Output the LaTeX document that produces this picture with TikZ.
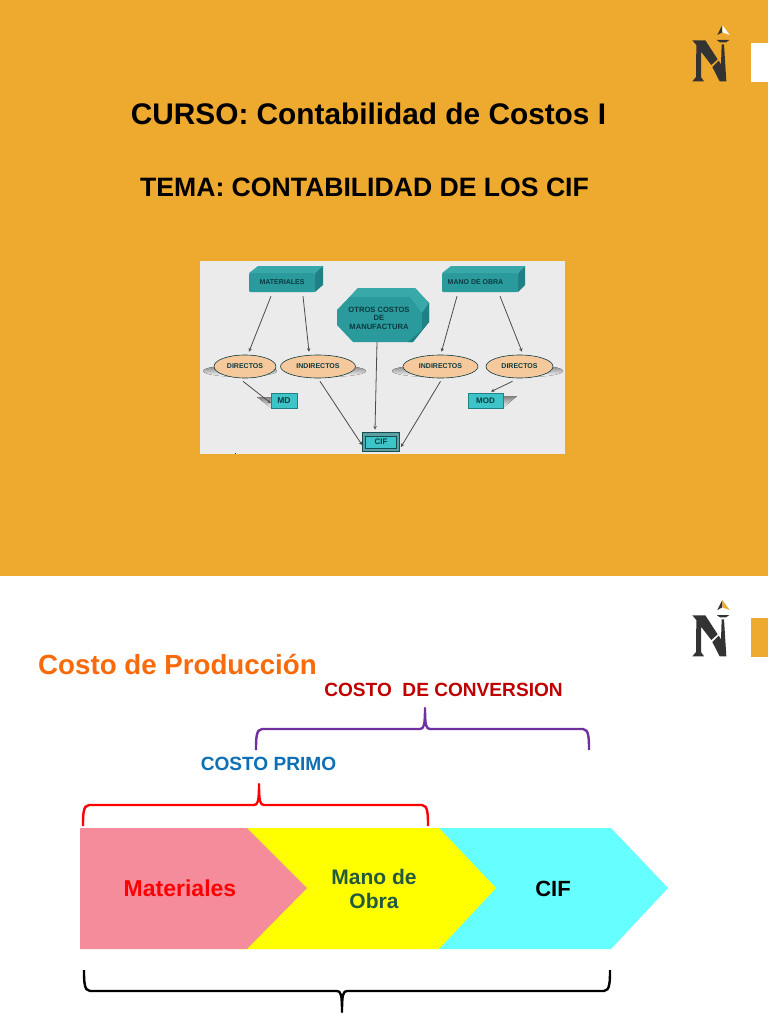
\documentclass[tikz,border=0pt]{standalone}
\usepackage{fontspec}
\setmainfont{Liberation Sans}
\usetikzlibrary{calc,arrows.meta,shapes.geometric}
\definecolor{bgorange}{HTML}{EEA92F}
\definecolor{panel}{HTML}{EBEBEB}
\definecolor{teal1}{HTML}{2A9A9C}
\definecolor{teal2}{HTML}{38A8A9}
\definecolor{teal3}{HTML}{1F8085}
\definecolor{tealtext}{HTML}{0C3A40}
\definecolor{peach}{HTML}{F5C99B}
\definecolor{shade}{HTML}{8E8E8E}
\definecolor{cyanbox}{HTML}{3CC4C8}
\definecolor{logodark}{HTML}{333333}
\definecolor{pinkc}{HTML}{F48C9C}
\definecolor{cyanc}{HTML}{66FFFF}
\definecolor{yellowc}{HTML}{FFFF00}
\definecolor{redc}{HTML}{FF0000}
\definecolor{primo}{HTML}{0F6FB5}
\definecolor{conv}{HTML}{C00000}
\definecolor{purpleb}{HTML}{7030A0}
\definecolor{darkgreen}{HTML}{245A3C}
\definecolor{prodo}{HTML}{F96A0A}
\newcommand{\fsz}[1]{\fontsize{#1}{#1}\selectfont}
\newcommand{\mybrace}[6]{% colour, left x, right x, tip x, end y, bar y
  \draw[#1,line width=2.4pt,line cap=butt,line join=round]
    (#2,#5) .. controls (#2,#6*0.5+#5*0.5) and (#2,#6) .. (#2+6,#6)
    -- (#4-5,#6) .. controls (#4-1,#6) and (#4,{#6+(#5>#6?-1:1)*4}) .. (#4,{#6+(#5>#6?-1:1)*21})
    .. controls (#4,{#6+(#5>#6?-1:1)*4}) and (#4+1,#6) .. (#4+5,#6)
    -- (#3-6,#6) .. controls (#3,#6) and (#3,#6*0.5+#5*0.5) .. (#3,#5);
}
\newcommand{\mylogo}[3]{% origin x, origin y, tip colour
  \begin{scope}[shift={(#1,#2)},x=0.3333pt,y=-0.3333pt]
    \fill[logodark] (67,76) -- (106,76) -- (143,133) -- (124,150) -- (93,110) -- (93,186) -- (102,199) -- (67,199) -- (78,186) -- (79,90) -- cycle;
    \fill[logodark] (127,156) -- (146,137) -- (153,148) -- (155,88) -- (162,88) -- (169,199) -- (149,199) -- cycle;
    \fill[logodark] (140,75) -- (178,75) -- (168,82) -- (150,82) -- cycle;
    \fill[logodark] (142,60) -- (157,30) -- (157,52) -- cycle;
    \fill[#3] (157,30) -- (179,60) -- (157,52) -- cycle;
  \end{scope}
}
\tikzset{
  boxfront/.style={draw=none,fill=teal1,rounded corners=1pt,inner sep=0pt,text=tealtext,font=\bfseries\fsz{7}},
  oval/.style={ellipse,draw=tealtext,line width=0.6pt,fill=peach,inner sep=0pt,text=tealtext,font=\bfseries\fsz{7}},
  cbox/.style={draw=teal3,line width=0.7pt,fill=cyanbox,inner sep=0pt,text=tealtext,font=\bfseries\fsz{8.5}},
  arr/.style={draw=black!70,line width=0.8pt,-{Stealth[length=3.5pt,width=3.5pt]}},
  label/.style={inner sep=0pt,font=\bfseries\fsz{#1}},
  label/.default=18
}
\begin{document}
\begin{tikzpicture}[x=1pt,y=-1pt]
\useasboundingbox (0,0) rectangle (768,1024);
\fill[white] (0,0) rectangle (768,1024);
\fill[bgorange] (0,0) rectangle (768,576);
% first slide
\node[label=29.8] (titulo) at (368.5,114) {CURSO: Contabilidad de Costos I};
\node[label=26.6] (tema) at (364.5,187) {TEMA: CONTABILIDAD DE LOS CIF};
\mylogo{670}{15}{white}
\fill[white] (751,43) rectangle (768,82);
% panel
\fill[panel] (200,261) rectangle (565,454);
\fill[tealtext] (234.5,452.5) rectangle (236,454);
% 3D boxes
\fill[teal2] (249,273) -- (258,266) -- (323,266) -- (315,273) -- cycle;
\fill[teal3] (315,273) -- (323,266) -- (323,285) -- (315,292) -- cycle;
\node[boxfront,minimum width=66pt,minimum height=19pt] (mat) at (282,282.5) {MATERIALES};
\fill[teal2] (442,273) -- (451,266) -- (525,266) -- (518,273) -- cycle;
\fill[teal3] (518,273) -- (525,266) -- (525,285) -- (518,292) -- cycle;
\node[boxfront,minimum width=76pt,minimum height=19pt] (mano) at (480,282.5) {\hspace*{-9pt}MANO DE OBRA};
% octagon
\fill[teal1] (358,288) -- (415,288) -- (429,303) -- (429,322) -- (413,342) -- (353,342) -- (337,325) -- (337,310) -- cycle;
\fill[teal2] (358,288) -- (415,288) -- (429,303) -- (422,313) -- (410,297) -- (350,297) -- cycle;
\fill[teal3] (422,313) -- (429,303) -- (429,322) -- (413,342) -- (408,342) -- (422,330) -- cycle;
\node[inner sep=0pt,align=center,text=tealtext,font=\bfseries\fsz{7.6},minimum width=92pt,minimum height=54pt] (otros) at (379,318)
  {OTROS COSTOS\\[1pt]DE\\[1pt]MANUFACTURA};
\coordinate (otrosb) at (377,342);
% shadows
\fill[shade] (240,371) ellipse (37 and 5.8);
\fill[shade] (328,371) ellipse (38 and 5.8);
\fill[shade] (430,371) ellipse (38 and 5.8);
\fill[shade] (530,371) ellipse (33 and 5.8);
\fill[shade] (257,397) -- (271,397) -- (271,408) -- cycle;
\fill[shade] (503,396) -- (517,396) -- (503,408) -- cycle;
% ovals
\node[oval,minimum width=62pt,minimum height=23pt] (d1) at (245,366.5) {DIRECTOS};
\node[oval,minimum width=75pt,minimum height=23pt] (i1) at (318,366.5) {INDIRECTOS};
\node[oval,minimum width=75pt,minimum height=23pt] (i2) at (440.5,366.5) {INDIRECTOS};
\node[oval,minimum width=67pt,minimum height=23pt] (d2) at (519.5,366.5) {DIRECTOS};
% small boxes
\node[cbox,minimum width=26pt,minimum height=15pt] (md) at (284,400.5) {MD};
\node[cbox,minimum width=35pt,minimum height=15pt,font=\bfseries\fsz{8}] (mod) at (485.5,400.5) {MOD};
\fill[teal3!70!panel,draw=teal3!60!black,line width=0.5pt] (362.5,432) rectangle (399.5,451.5);
\node[draw=teal3!60!black,line width=0.9pt,fill=cyanbox,inner sep=0pt,minimum width=31pt,minimum height=12pt,text=tealtext,font=\bfseries\fsz{8}] (cif) at (381,442) {CIF};
% arrows
\draw[arr] ([xshift=-11pt,yshift=-4pt]mat.south) -- ([xshift=4pt,yshift=3pt]d1.north);
\draw[arr] ([xshift=21pt,yshift=-4pt]mat.south) -- ([xshift=-9pt,yshift=3pt]i1.north);
\draw[arr] (otrosb) -- ([xshift=-6pt,yshift=6pt]cif.north);
\draw[arr] ([xshift=-2pt,yshift=-3pt]d1.south) -- ([yshift=-2.5pt]md.west);
\draw[arr] ([xshift=2pt,yshift=-3pt]i1.south) -- ([yshift=-3pt,xshift=-3pt]cif.west);
\draw[arr] ([xshift=-23pt,yshift=-4pt]mano.south) -- ([xshift=1pt,yshift=3pt]i2.north);
\draw[arr] ([xshift=20pt,yshift=-4pt]mano.south) -- ([xshift=2.5pt,yshift=3pt]d2.north);
\draw[arr] ([yshift=-3pt]i2.south) -- ([yshift=-5pt,xshift=4pt]cif.east);
\draw[arr] ([xshift=-7pt,yshift=-3pt]d2.south) -- ([xshift=5.5pt,yshift=1pt]mod.north);
% second slide
\mylogo{670}{590}{bgorange}
\fill[bgorange] (751,618) rectangle (768,657);
\node[label=27.7,text=prodo,anchor=west] (costo) at (38,664) {Costo de Producción};
\node[label=19.1,text=conv] (conversion) at (443.5,690) {COSTO\ \ DE CONVERSION};
\node[label=19.1,text=primo] (primo) at (268.5,764) {COSTO PRIMO};
\mybrace{purpleb}{256}{589}{425}{750}{729}
\mybrace{redc}{83}{428}{259}{826}{805}
% chevrons
\fill[cyanc] (430,828) -- (611,828) -- (668,888) -- (611,949) -- (430,949) -- cycle;
\fill[yellowc] (240,828) -- (439,828) -- (496,888) -- (439,949) -- (240,949) -- cycle;
\fill[pinkc] (80,828) -- (247,828) -- (307,888) -- (247,949) -- (80,949) -- cycle;
\node[label=23,text=redc] (materiales) at (180,888) {Materiales};
\node[label=21,text=darkgreen,align=center] (manoobra) at (374,888.5) {Mano de\\[3pt]Obra};
\node[label=22,text=black] (cifb) at (553,888.5) {CIF};
\mybrace{black}{84}{610}{342}{970}{991}
\end{tikzpicture}
\end{document}
